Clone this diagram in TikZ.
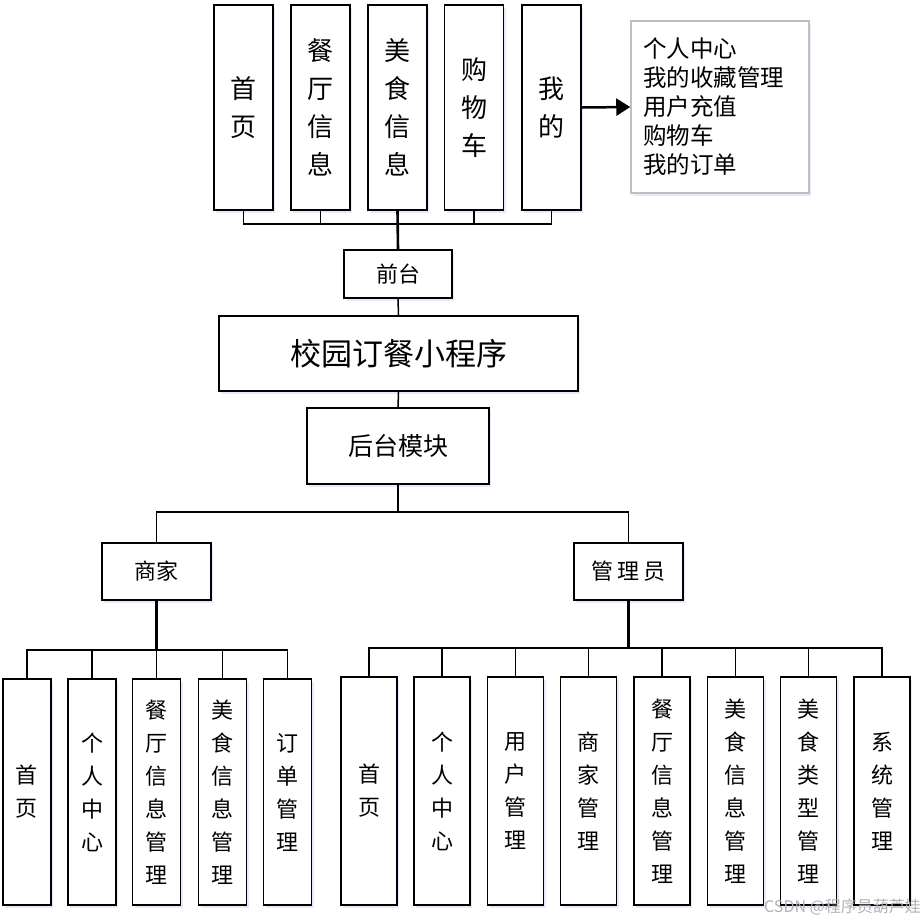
\documentclass[tikz,border=0pt]{standalone}
\usepackage{fontspec}
\setmainfont{Noto Sans CJK SC}
\usetikzlibrary{arrows.meta,shadows}
\tikzset{
  box/.style={draw=black, line width=1.8pt, fill=white, inner sep=0pt, align=center,
    drop shadow={shadow xshift=2pt, shadow yshift=-3pt, fill=blue!25, opacity=0.35}},
  topbox/.style={box, minimum width=59pt, minimum height=205pt, font=\fontsize{26}{38}\selectfont},
  lbox/.style={box, minimum width=48pt, minimum height=226pt, font=\fontsize{22}{33}\selectfont},
  rbox/.style={box, minimum width=56pt, minimum height=228pt, font=\fontsize{22}{33}\selectfont},
  conn/.style={line width=1.5pt},
  trunk/.style={line width=2.6pt},
}
\begin{document}
\begin{tikzpicture}[x=1pt,y=-1pt]
\useasboundingbox[fill=white] (0,0) rectangle (923,921);
% top row
\node[topbox] (t1) at (243.5,107.5) {首\\页};
\node[topbox] (t2) at (320.5,107.5) {餐\\厅\\信\\息};
\node[topbox] (t3) at (397.5,107.5) {美\\食\\信\\息};
\node[topbox] (t4) at (474,107.5) {购\\物\\车};
\node[topbox] (t5) at (551.5,107.5) {我\\的};
% list box
\node[draw=black!25, line width=1.5pt, fill=white, minimum width=178pt, minimum height=172pt,
  drop shadow={shadow xshift=2pt, shadow yshift=-3pt, fill=blue!25, opacity=0.35}] (list) at (720,107) {};
\node[anchor=west, align=left, inner sep=0pt, font=\fontsize{23.5}{29}\selectfont] (listtxt) at (643,107)
  {个人中心\\我的收藏管理\\用户充值\\购物车\\我的订单};
\draw[line width=2.5pt, -{Triangle[length=14pt,width=17pt]}] (t5.east) -- (list.west);
% middle
\node[box, minimum width=108pt, minimum height=48pt, font=\fontsize{22}{26}\selectfont] (front) at (398,274) {前台};
\node[box, minimum width=359pt, minimum height=75pt, font=\fontsize{31}{36}\selectfont] (main) at (398.5,353.5) {校园订餐小程序};
\node[box, minimum width=182pt, minimum height=76pt, font=\fontsize{25}{30}\selectfont] (back) at (398,446) {后台模块};
\node[box, minimum width=109pt, minimum height=57pt, font=\fontsize{22}{26}\selectfont] (shang) at (156.5,571.5) {商家};
\node[box, minimum width=109pt, minimum height=57pt, font=\fontsize{22}{26}\selectfont] (guan) at (628.5,571.5) {管\,理\,员};
% left children
\node[lbox] (l1) at (27,792) {首\\页};
\node[lbox] (l2) at (92,792) {个\\人\\中\\心};
\node[lbox] (l3) at (156.5,792) {餐\\厅\\信\\息\\管\\理};
\node[lbox] (l4) at (222.5,792) {美\\食\\信\\息\\管\\理};
\node[lbox] (l5) at (287.5,792) {订\\单\\管\\理};
% right children
\node[rbox] (r1) at (369,791) {首\\页};
\node[rbox] (r2) at (442,791) {个\\人\\中\\心};
\node[rbox] (r3) at (515.5,791) {用\\户\\管\\理};
\node[rbox] (r4) at (588.5,791) {商\\家\\管\\理};
\node[rbox] (r5) at (662,791) {餐\\厅\\信\\息\\管\\理};
\node[rbox] (r6) at (735.5,791) {美\\食\\信\\息\\管\\理};
\node[rbox] (r7) at (808.5,791) {美\\食\\类\\型\\管\\理};
\node[rbox] (r8) at (882,791) {系\\统\\管\\理};
% connectors top
\coordinate (tb) at (397.5,224);
\foreach \n in {t1,t2,t4,t5} \draw[conn] (\n.south) |- (tb);
\draw[trunk] (t3.south) -- (front.north);
\draw[conn] (front.south) -- (main.north);
\draw[conn] (main.south) -- (back.north);
\coordinate (bb) at (398,512);
\draw[trunk] (back.south) -- (bb);
\draw[conn] (bb) -| (shang.north);
\draw[conn] (bb) -| (guan.north);
\coordinate (sb) at (156.5,650);
\draw[trunk] (shang.south) -- (sb);
\foreach \n in {l1,l2,l3,l4,l5} \draw[conn] (sb) -| (\n.north);
\coordinate (gb) at (628.5,648);
\draw[trunk] (guan.south) -- (gb);
\foreach \n in {r1,r2,r3,r4,r5,r6,r7,r8} \draw[conn] (gb) -| (\n.north);
% watermark
\node[anchor=east, text=black!30, inner sep=0pt, font=\fontsize{16}{18}\selectfont] (wm) at (921,907) {CSDN @程序员葫芦娃};
\end{tikzpicture}
\end{document}
